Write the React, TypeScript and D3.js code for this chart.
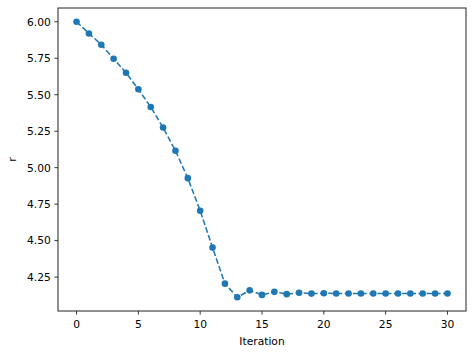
import React from "react";
import * as d3 from "d3";

const iterations = d3.range(0, 31);
const rValues = [
  6.0, 5.92, 5.843, 5.747, 5.651, 5.537, 5.416, 5.275, 5.116, 4.928, 4.705,
  4.452, 4.205, 4.112, 4.159, 4.128, 4.149, 4.133, 4.143, 4.137, 4.139, 4.138,
  4.138, 4.138, 4.138, 4.138, 4.138, 4.138, 4.138, 4.138, 4.138,
];
const xTicks = [0, 5, 10, 15, 20, 25, 30];
const yTicks = [4.25, 4.5, 4.75, 5.0, 5.25, 5.5, 5.75, 6.0];
const xLabel = "Iteration";
const yLabel = "r";

const W = 474;
const H = 355;
const L = 58;
const R = 466;
const T = 8;
const B = 311;
const color = "#1f77b4";
const font = "DejaVu Sans, sans-serif";
const fs = 10.7;

export default function App() {
  const xMin = d3.min(iterations)!;
  const xMax = d3.max(iterations)!;
  const yMin = d3.min(rValues)!;
  const yMax = d3.max(rValues)!;
  const xm = (xMax - xMin) * 0.05;
  const ym = (yMax - yMin) * 0.05;
  const x = d3.scaleLinear().domain([xMin - xm, xMax + xm]).range([L, R]);
  const y = d3.scaleLinear().domain([yMin - ym, yMax + ym]).range([B, T]);
  const pts = iterations.map((it, i) => [it, rValues[i]] as [number, number]);
  const line = d3
    .line<[number, number]>()
    .x((d) => x(d[0]))
    .y((d) => y(d[1]));
  const tick = 3.6;
  return (
    <svg
      width={W}
      height={H}
      style={{ position: "absolute", left: 0, top: 0, background: "#fff" }}
    >
      <path
        d={line(pts) || ""}
        fill="none"
        stroke={color}
        strokeWidth={1.54}
        strokeDasharray="5.7 2.5"
      />
      {pts.map((d, i) => (
        <circle key={i} cx={x(d[0])} cy={y(d[1])} r={3.3} fill={color} />
      ))}
      <rect
        x={L}
        y={T}
        width={R - L}
        height={B - T}
        fill="none"
        stroke="#222"
        strokeWidth={1}
      />
      {xTicks.map((t) => (
        <g key={"x" + t}>
          <line x1={x(t)} x2={x(t)} y1={B} y2={B + tick} stroke="#222" strokeWidth={0.9} />
          <text
            x={x(t)}
            y={B + tick + 3.6 + 10.1}
            textAnchor="middle"
            fontFamily={font}
            fontSize={fs}
            fill="#000"
          >
            {t}
          </text>
        </g>
      ))}
      {yTicks.map((t) => (
        <g key={"y" + t}>
          <line x1={L - tick} x2={L} y1={y(t)} y2={y(t)} stroke="#222" strokeWidth={0.9} />
          <text
            x={L - tick - 3.6}
            y={y(t)}
            dy="0.36em"
            textAnchor="end"
            fontFamily={font}
            fontSize={fs}
            fill="#000"
          >
            {t.toFixed(2)}
          </text>
        </g>
      ))}
      <text
        x={(L + R) / 2}
        y={345}
        textAnchor="middle"
        fontFamily={font}
        fontSize={fs}
        fill="#000"
      >
        {xLabel}
      </text>
      <text
        transform={`translate(${16},${(T + B) / 2}) rotate(-90)`}
        textAnchor="middle"
        fontFamily={font}
        fontSize={fs}
        fill="#000"
      >
        {yLabel}
      </text>
    </svg>
  );
}
